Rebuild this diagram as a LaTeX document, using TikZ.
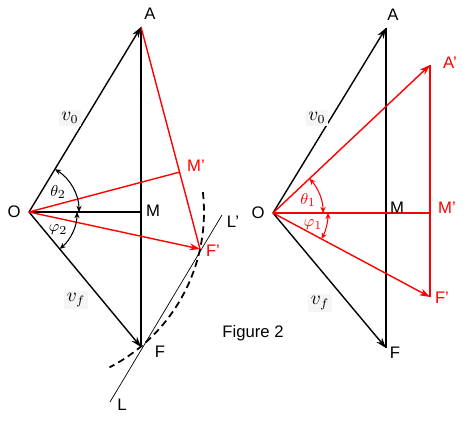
\documentclass[tikz,border=0pt]{standalone}
\usepackage{amsmath,amssymb}
\usepackage{fontspec}
\setmainfont{Liberation Sans}
\usetikzlibrary{arrows.meta}

\begin{document}
\begin{tikzpicture}[x = .02cm, y = .02cm,
  font = \fontsize{9.5}{11}\selectfont,
  vec/.style = {line width = .8pt, -{Stealth[length = 6pt, width = 4pt]}},
  seg/.style = {line width = .8pt},
  ang/.style = {line width = .6pt, {Stealth[length = 3.5pt, width = 3pt]}-{Stealth[length = 3.5pt, width = 3pt]}},
  vlab/.style = {fill = gray!8, inner sep = 1.5pt, font = \fontsize{10.5}{12}\selectfont}]
 \useasboundingbox (0, 0) rectangle (474, 423);
 % left picture
  \coordinate (O) at (29, 211);
  \coordinate (A) at (141, 396);
  \coordinate (M) at (141, 211);
  \coordinate (F) at (141, 76);
  \coordinate (Mp) at (180, 251);
  \coordinate (Fp) at (200, 174);
  \coordinate (L) at (110, 21);
  \coordinate (Lp) at (222, 208);
  \draw [dashed, line width = 1pt, dash pattern = on 4pt off 2.5pt] (O) ++(6.5:175) arc [start angle = 6.5, end angle = -62.6, radius = 175];
  \draw [line width = .4pt] (L) -- (Lp);
  \draw [seg] (A) -- (F);
  \draw [seg] (O) -- (M);
  \draw [vec] (O) -- (A);
  \draw [vec] (O) -- (F);
  \draw [seg, red] (A) -- (Fp);
  \draw [seg, red] (O) -- (Mp);
  \draw [vec, red] (O) -- (Fp);
  \draw [ang] (O) ++(58.8:50) arc [start angle = 58.8, end angle = 0, radius = 50];
  \draw [ang] (O) ++(0:48) arc [start angle = 0, end angle = -50.3, radius = 48];
  \node (lO) at (14, 211) {O};
  \node (lA) at (150, 409) {A};
  \node (lM) at (153, 212) {M};
  \node (lF) at (160, 71) {F};
  \node [red] (lMp) at (196, 257) {M'};
  \node [red] (lFp) at (213, 172) {F'};
  \node (lLp) at (233, 201) {L'};
  \node (lL) at (122, 18) {L};
  \node (lth) at (58, 231) {$\theta_2$};
  \node (lph) at (58, 193) {$\varphi_2$};
  \node [vlab] (lvo) at (70, 305) {$v_0$};
  \node [vlab] (lvf) at (76, 123) {$v_f$};
  \node (fig) at (253, 90) {Figure 2};
 % right picture
  \coordinate (O1) at (273, 210);
  \coordinate (A1) at (386, 395);
  \coordinate (Ap1) at (430, 358);
  \coordinate (M1) at (386, 210);
  \coordinate (Mp1) at (430, 210);
  \coordinate (Fp1) at (430, 126);
  \coordinate (F1) at (386, 75);
  \draw [seg] (A1) -- (F1);
  \draw [vec] (O1) -- (A1);
  \draw [vec] (O1) -- (F1);
  \draw [seg, red] (O1) -- (Mp1);
  \draw [seg, red] (Ap1) -- (Fp1);
  \draw [vec, red] (O1) -- (Ap1);
  \draw [vec, red] (O1) -- (Fp1);
  \draw [ang, red] (O1) ++(43.3:50) arc [start angle = 43.3, end angle = 0, radius = 50];
  \draw [ang, red] (O1) ++(0:55) arc [start angle = 0, end angle = -28.1, radius = 55];
  \node (lO1) at (258, 210) {O};
  \node (lA1) at (393, 408) {A};
  \node [red] (lAp1) at (450, 360) {A'};
  \node (lM1) at (397, 215) {M};
  \node [red] (lMp1) at (447, 215) {M'};
  \node [red] (lFp1) at (442, 125) {F'};
  \node (lF1) at (395, 70) {F};
  \node [red] (lth1) at (308, 223) {$\theta_1$};
  \node [red] (lph1) at (313, 198) {$\varphi_1$};
  \node [vlab] (lvo1) at (317, 305) {$v_0$};
  \node [vlab] (lvf1) at (320, 120) {$v_f$};
\end{tikzpicture}
\end{document}
